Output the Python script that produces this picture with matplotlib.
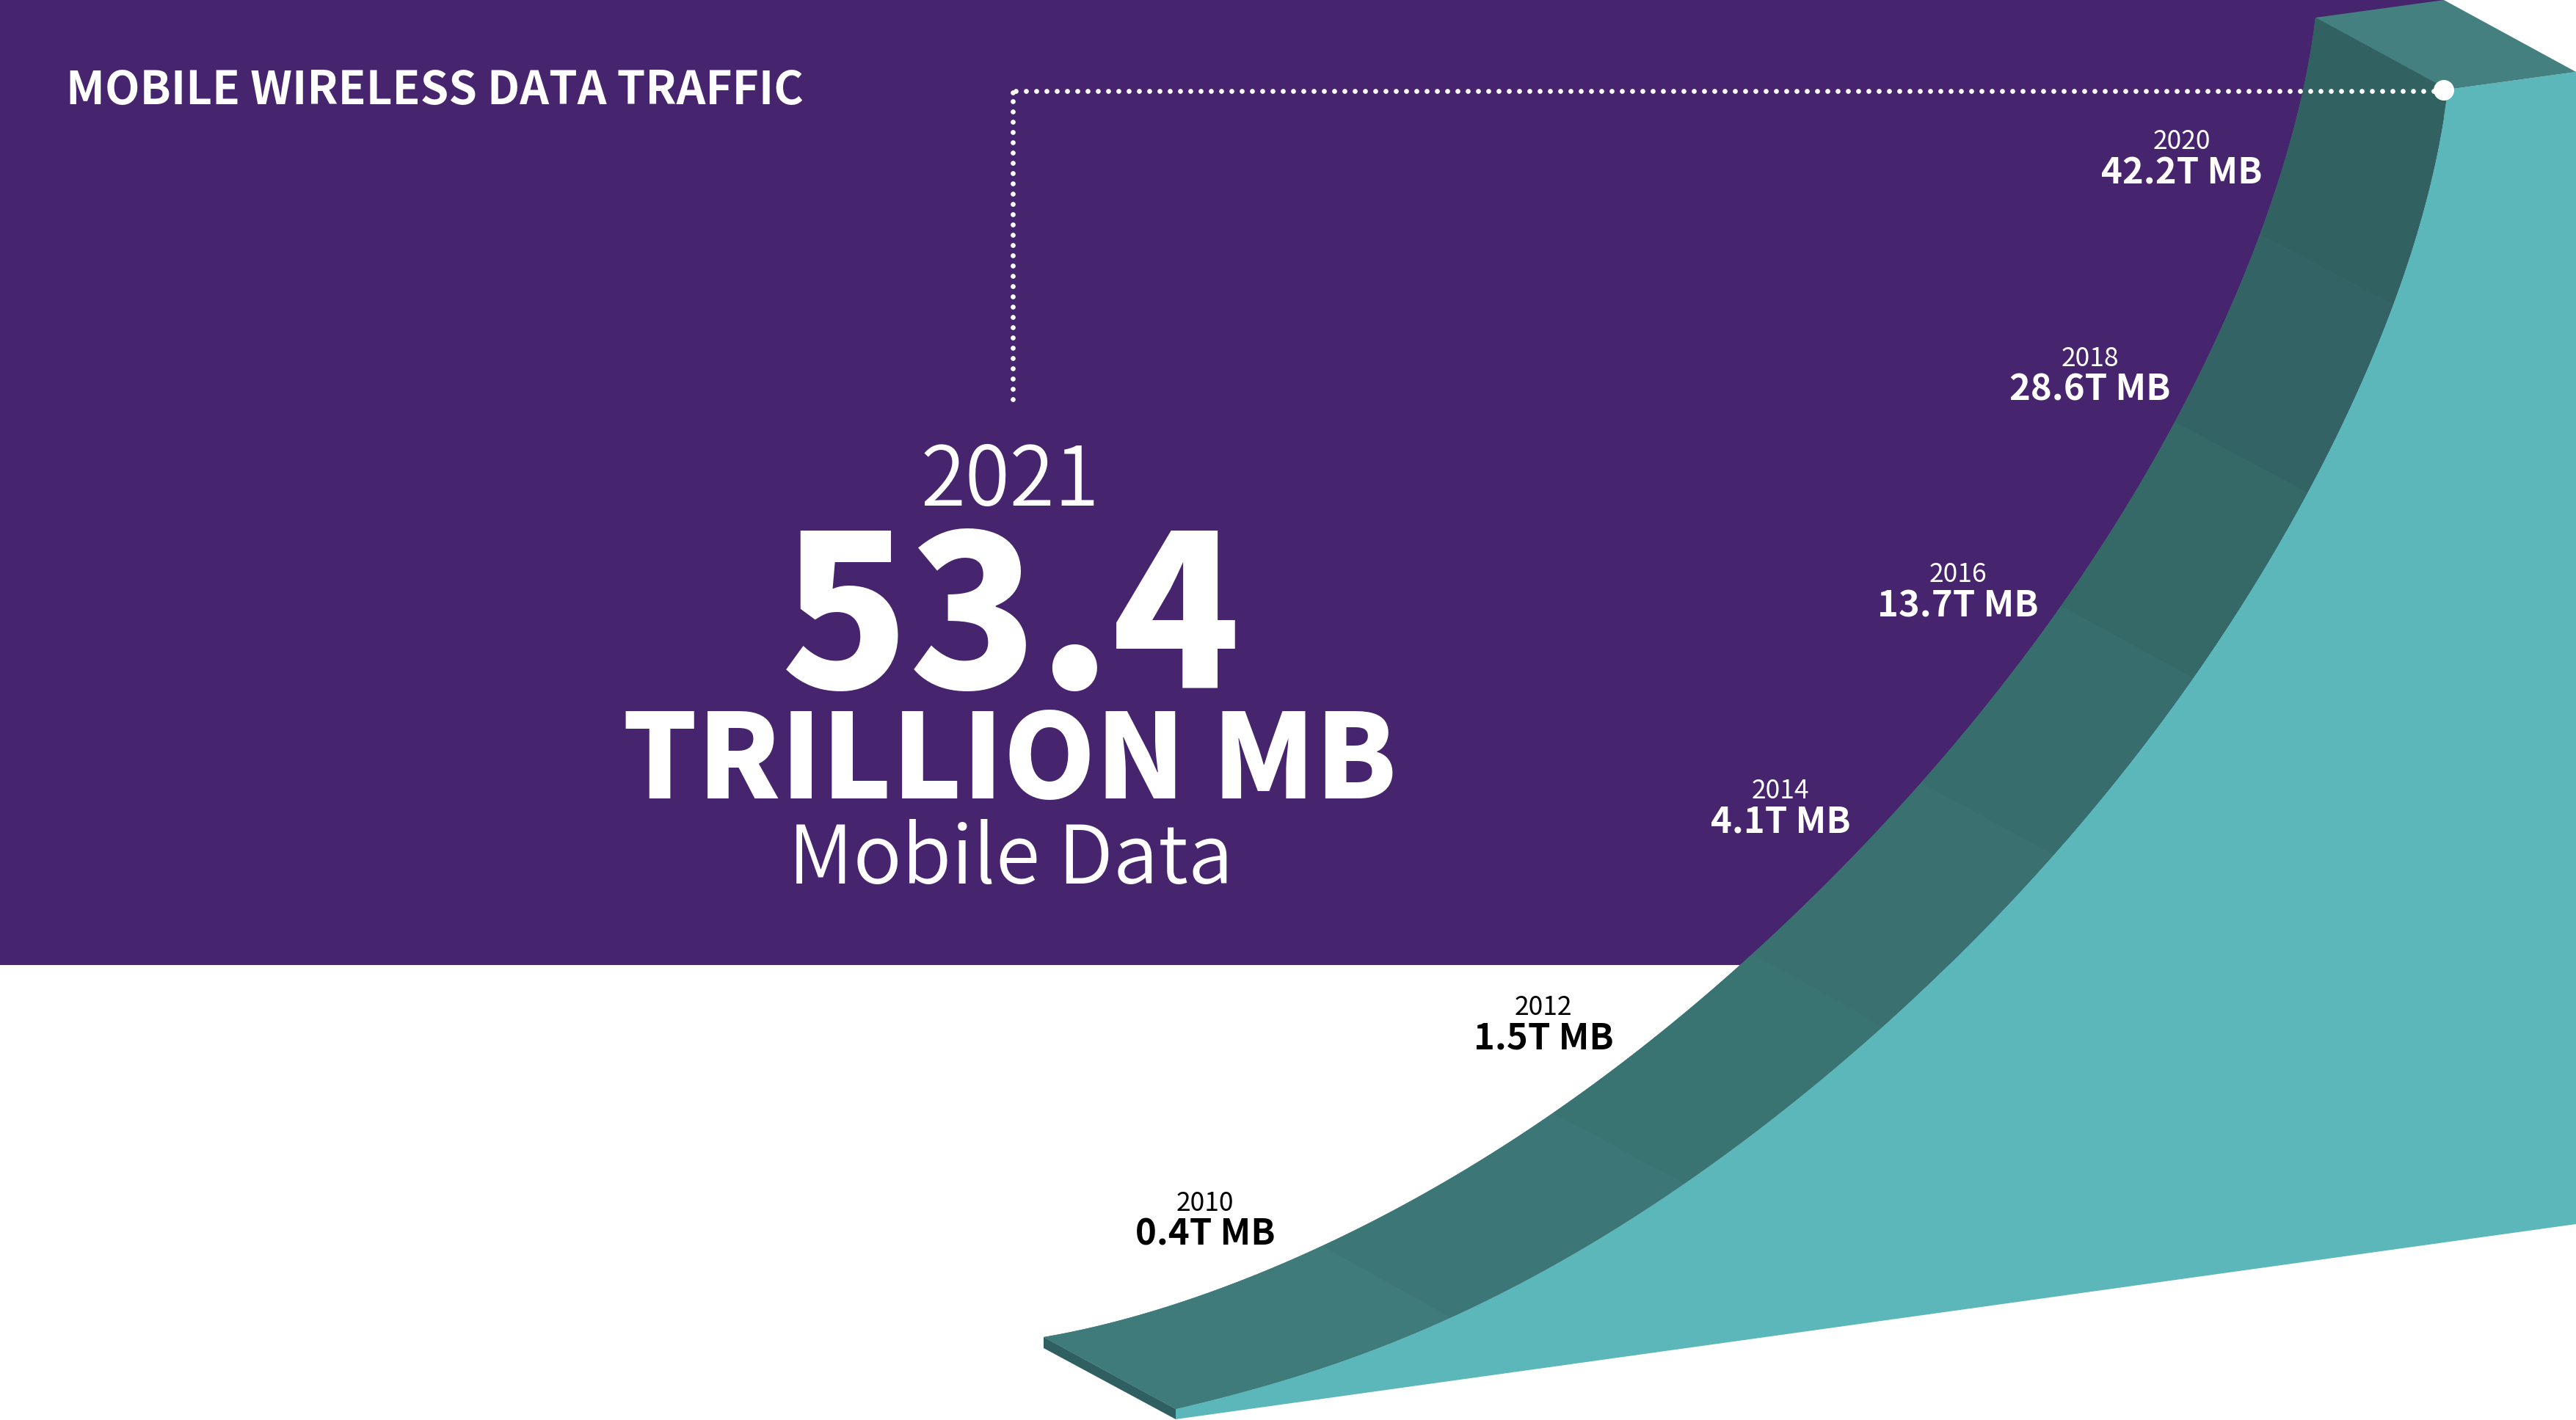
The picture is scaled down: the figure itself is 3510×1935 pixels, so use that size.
import matplotlib
matplotlib.use("Agg")
import matplotlib.pyplot as plt
from matplotlib.patches import Polygon, Circle
import numpy as np

plt.rcParams['font.family'] = ['Noto Sans CJK JP', 'DejaVu Sans']

# Values printed on the chart
years = [2010, 2012, 2014, 2016, 2018, 2020]
traffic = [0.4, 1.5, 4.1, 13.7, 28.6, 42.2]
label_x = [1642, 2103, 2426, 2668, 2848, 2973]
year_y = [1650, 1383, 1088, 793, 499, 203]
value_y = [1696, 1429, 1134, 840, 545, 250]
label_colors = ['black', 'black', 'white', 'white', 'white', 'white']

# Ribbon outline (pixels)
upper_x = [1422, 1500, 1600, 1700, 1802, 1900, 1983, 2117, 2230, 2370, 2560, 2618, 2715, 2807, 2900, 2963, 3038, 3079, 3110, 3137, 3155]
upper_y = [1822, 1806, 1778, 1740, 1698, 1650, 1600, 1517, 1433, 1315, 1130, 1067, 950, 827, 687, 575, 420, 320, 233, 123, 24]
lower_x = [1602, 1700, 1800, 1900, 1980, 2117, 2295, 2450, 2560, 2643, 2727, 2798, 2893, 2970, 3083, 3145, 3259, 3312, 3334, 3335]
lower_y = [1920, 1897, 1863, 1827, 1797, 1723, 1613, 1498, 1404, 1325, 1243, 1165, 1053, 950, 775, 672, 420, 247, 137, 122]

# seams across the ribbon, top end then bottom end
seam_top = [(1802, 1698), (2117, 1517), (2384, 1298), (2618, 1067), (2807, 825), (2963, 575), (3079, 320)]
seam_bot = [(1980, 1797), (2295, 1613), (2565, 1399), (2798, 1165), (2990, 925), (3145, 672), (3260, 415)]
segment_colors = ['#3f7b7a', '#3d7676', '#397473', '#3a7170', '#376d6c', '#356967', '#346366', '#316160']

PURPLE = '#46246e'
TEAL = '#5cb7ba'
W, H = 3510, 1935
PX = 0.72  # points per pixel at dpi 100


def fair_curve(x, y, deg=8):
    # the hand traced points are a bit noisy, fit them along their chord length
    x = np.array(x, float)
    y = np.array(y, float)
    s = np.r_[0, np.cumsum(np.hypot(np.diff(x), np.diff(y)))]
    s = s / s[-1]
    w = np.ones(len(s))
    w[0] = w[-1] = 6
    t = np.linspace(0, 1, 400)
    fx = np.polyval(np.polyfit(s, x, deg, w=w), t)
    fy = np.polyval(np.polyfit(s, y, deg, w=w), t)
    return np.column_stack([fx, fy])


fig = plt.figure(figsize=(W / 100, H / 100), dpi=100)
ax = fig.add_axes([0, 0, 1, 1])
ax.set_xlim(0, W)
ax.set_ylim(H, 0)
ax.axis('off')

ax.add_patch(Polygon([(0, 0), (3330, 0), (3330, 1315), (0, 1315)], fc=PURPLE, ec='none', zorder=1))

upper = fair_curve(upper_x, upper_y)
lower = fair_curve(lower_x, lower_y)

# teal wall, the ribbon sits on top of its curved edge
teal_pts = np.vstack([lower, [(3510, 98), (3510, 1668), (1602, 1934)]])
ax.add_patch(Polygon(teal_pts, fc=TEAL, ec='none', zorder=2))
ax.add_patch(Polygon([(3155, 24), (3330, 0), (3510, 98), (3335, 122)], fc='#44807f', ec='none', zorder=3))
ax.add_patch(Polygon([(1422, 1822), (1422, 1837), (1602, 1934), (1602, 1920)], fc='#2f5f60', ec='none', zorder=3))

# ribbon shape
band = Polygon(np.vstack([upper, lower[::-1]]), fc=segment_colors[0], ec='none', zorder=3)
ax.add_patch(band)

# one clipped piece per stretch of the ribbon
tops = [(1200, 1700)] + seam_top + [(3300, -100)]
bots = [(1300, 2100)] + seam_bot + [(3600, 300)]
for i, c in enumerate(segment_colors):
    a = np.array(tops[i], float)
    b = np.array(bots[i], float)
    d = np.array(tops[i + 1], float)
    e = np.array(bots[i + 1], float)
    u1 = (b - a) * 1.5
    u2 = (e - d) * 1.5
    piece = Polygon([a - u1, b + u1, e + u2, d - u2], fc=c, ec='none', zorder=4)
    ax.add_patch(piece)
    piece.set_clip_path(band)

# dotted leader
dot = 6.7 * PX
ax.plot([1380.3] * 30, np.arange(544, 124, -14), 'o', color='white', ms=dot, mew=0, zorder=6)
ax.plot(np.arange(1384, 3330, 14), [123.7] * len(np.arange(1384, 3330, 14)), 'o', color='white', ms=dot, mew=0, zorder=6)
ax.plot([1380.3], [125.5], 'o', color='white', ms=dot, mew=0, zorder=6)
ax.add_patch(Circle((3330, 123), 14, fc='white', ec='none', zorder=7))

# headline block
ax.text(90, 141.7, 'MOBILE WIRELESS DATA TRAFFIC', color='white', fontsize=62 * PX, fontweight='bold', va='baseline', ha='left', zorder=8)
ax.text(1376, 689, '2021', color='white', fontsize=111 * PX, fontweight=350, va='baseline', ha='center', zorder=8)
ax.text(1377, 938, '53.4', color='white', fontsize=288 * PX, fontweight=900, va='baseline', ha='center', zorder=8)
ax.text(1376, 1088, 'TRILLION MB', color='white', fontsize=160 * PX, fontweight=900, va='baseline', ha='center', zorder=8)
ax.text(1377, 1204, 'Mobile Data', color='white', fontsize=110 * PX, fontweight=350, va='baseline', ha='center', zorder=8)

for yr, v, lx, yy, vy, c in zip(years, traffic, label_x, year_y, value_y, label_colors):
    ax.text(lx, yy, str(yr), color=c, fontsize=35.5 * PX, fontweight='regular', va='baseline', ha='center', zorder=8)
    ax.text(lx, vy, f'{v}T MB', color=c, fontsize=49 * PX, fontweight='bold', va='baseline', ha='center', zorder=8)

fig.savefig('out.png', dpi=100)
